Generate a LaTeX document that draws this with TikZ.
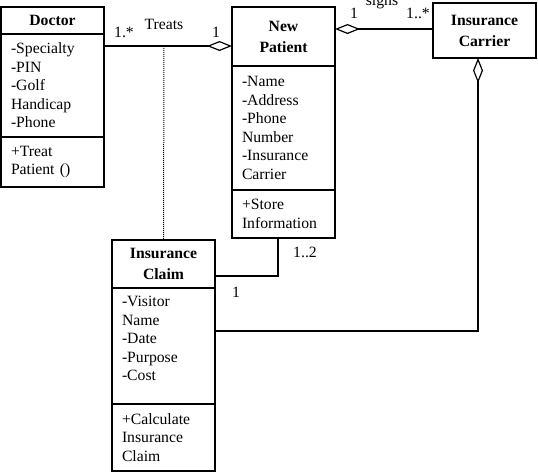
\documentclass[tikz,border=0pt]{standalone}
\usepackage{fontspec}
\setmainfont{Liberation Serif}
\usetikzlibrary{arrows.meta}
\begin{document}
\begin{tikzpicture}[x=1pt,y=-1pt,
    every node/.style={font=\fontsize{15.7}{18.5}\selectfont},
    box/.style={draw,line width=1.2pt,anchor=north west,minimum width=103pt,
        inner xsep=10pt,inner ysep=0pt,outer sep=0pt,text width=83pt},
    title/.style={box,align=center,font=\fontsize{15.7}{21}\selectfont\bfseries},
    field/.style={box,align=left},
    lbl/.style={anchor=base,inner sep=0pt},
    link/.style={line width=1.2pt},
    aggr/.tip={Diamond[open,length=25pt,width=10pt]}]
\useasboundingbox (0,0) rectangle (538,472);
% classes
\node[title,minimum height=27pt] (doc-h) at (1,7) {Doctor};
\node[field,minimum height=103pt] (doc-a) at (doc-h.south west) {-Specialty\\-PIN\\-Golf\\Handicap\\-Phone};
\node[field,minimum height=50pt] (doc-o) at (doc-a.south west) {+Treat\\Patient ()};

\node[title,minimum height=59pt] (np-h) at (232,7) {New\\Patient};
\node[field,minimum height=124pt] (np-a) at (np-h.south west) {-Name\\-Address\\-Phone\\Number\\-Insurance\\Carrier};
\node[field,minimum height=48pt] (np-o) at (np-a.south west) {+Store\\Information};

\node[title,minimum height=55pt] (ic) at (433,3) {Insurance\\Carrier};

\node[title,minimum height=48pt] (claim-h) at (112,240) {Insurance\\Claim};
\node[field,minimum height=116pt] (claim-a) at (claim-h.south west) {-Visitor\\Name\\-Date\\-Purpose\\-Cost\\[-4pt]\mbox{}};
\node[field,minimum height=67pt] (claim-o) at (claim-a.south west) {+Calculate\\Insurance\\Claim};

% associations
\coordinate (treats) at (164,46);
\coordinate (signs) at (384,29);
\coordinate (covers) at (478,331);
\coordinate (files) at (278,276);
\draw[link,-aggr] (doc-a.north east |- treats) -- (np-h.west |- treats);
\draw[densely dotted,line width=1pt] (treats) -- (claim-h.north);
\draw[link,aggr-] (np-h.east |- signs) -- (ic.west |- signs);
\draw[link,aggr-] (ic.south -| covers) |- (claim-a.east |- covers);
\draw[link] (np-o.south -| files) |- (claim-h.east |- files);

% multiplicities
\node[lbl] (treats-m) at (124,37) {1.*};
\node[lbl] (treats-t) at (164,29) {Treats};
\node[lbl] (treats-o) at (216,37) {1};
\node[lbl] (signs-o) at (354,18) {1};
\node[lbl] (signs-t) at (382,5) {signs};
\node[lbl] (signs-m) at (418,18) {1..*};
\node[lbl] (files-m) at (305,257) {1..2};
\node[lbl] (files-o) at (236,297) {1};
\end{tikzpicture}
\end{document}
